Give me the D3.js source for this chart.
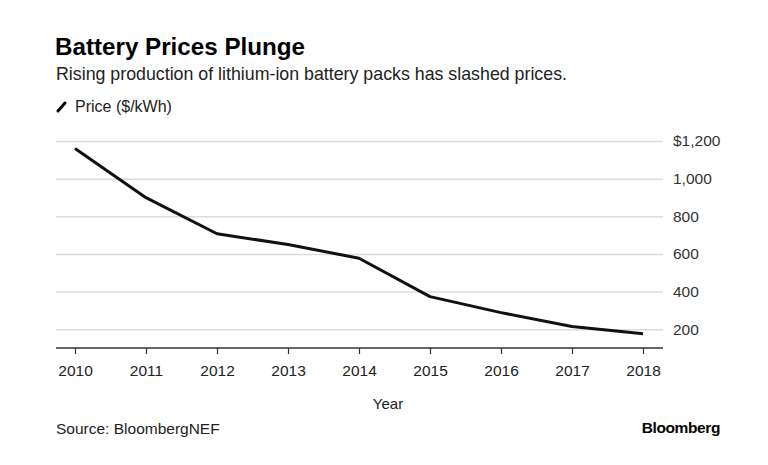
<!DOCTYPE html>
<html>
<head>
<meta charset="utf-8">
<script src="https://cdn.jsdelivr.net/npm/d3@7"></script>
<style>
  body { margin: 0; background: #fff; }
  svg text { font-family: "Liberation Sans", Arial, sans-serif; }
</style>
</head>
<body>
<div id="chart"></div>
<script>
// data (BloombergNEF pack prices)
const years = [2010, 2011, 2012, 2013, 2014, 2015, 2016, 2017, 2018]
const prices = [1160, 899, 707, 650, 577, 373, 288, 214, 176]
const yTicks = [200, 400, 600, 800, 1000, 1200]

const width = 768
const height = 465
const plotLeft = 56, plotRight = 663, plotTop = 141, plotBottom = 348

const svg = d3.select("#chart")
    .append("svg")
    .attr("width", width)
    .attr("height", height)

const x = d3.scaleLinear()
    .domain([2010, 2018])
    .range([75, 643])

const y = d3.scaleLinear()
    .domain([100, 1200])
    .range([plotBottom, plotTop])

// titles
svg.append("text")
    .attr("x", 55).attr("y", 55)
    .text("Battery Prices Plunge")
    .style("font-size", "24.2px")
    .style("font-weight", "bold")
    .style("fill", "#000")

svg.append("text")
    .attr("x", 56).attr("y", 80)
    .text("Rising production of lithium-ion battery packs has slashed prices.")
    .style("font-size", "17.8px")
    .style("fill", "#222")

// legend
svg.append("line")
    .attr("x1", 58).attr("y1", 111)
    .attr("x2", 65).attr("y2", 103)
    .attr("stroke", "#000")
    .attr("stroke-width", 3)
    .attr("stroke-linecap", "round")

svg.append("text")
    .attr("x", 75).attr("y", 112)
    .text("Price ($/kWh)")
    .style("font-size", "16px")
    .style("fill", "#222")

// y axis with gridlines, labels on the right
const yAxis = svg.append("g")
    .attr("transform", `translate(${plotRight}, 0)`)
    .call(d3.axisRight(y)
        .tickValues(yTicks)
        .tickSize(-(plotRight - plotLeft))
        .tickPadding(10)
        .tickFormat(d => d === 1200 ? "$1,200" : d3.format(",")(d)))

yAxis.select(".domain").remove()
yAxis.selectAll(".tick line")
    .attr("stroke", "#dcdcdc")
    .attr("stroke-width", 1.5)
yAxis.selectAll(".tick text")
    .style("font-size", "15.5px")
    .style("fill", "#333")

// x axis
const xAxis = svg.append("g")
    .attr("transform", `translate(0, ${plotBottom})`)
    .call(d3.axisBottom(x)
        .tickValues(years)
        .tickSize(6)
        .tickPadding(11)
        .tickFormat(d3.format("d")))

xAxis.select(".domain").remove()
xAxis.selectAll(".tick line")
    .attr("stroke", "#333")
    .attr("stroke-width", 1.2)
xAxis.selectAll(".tick text")
    .style("font-size", "15.5px")
    .style("fill", "#222")

svg.append("line")
    .attr("x1", plotLeft).attr("x2", plotRight)
    .attr("y1", plotBottom).attr("y2", plotBottom)
    .attr("stroke", "#333")
    .attr("stroke-width", 1.5)

svg.append("text")
    .attr("x", 388).attr("y", 409)
    .attr("text-anchor", "middle")
    .text("Year")
    .style("font-size", "15px")
    .style("fill", "#222")

// the line
const line = d3.line()
    .x((d, i) => x(years[i]))
    .y(d => y(d))

svg.append("path")
    .datum(prices)
    .attr("d", line)
    .attr("fill", "none")
    .attr("stroke", "#111")
    .attr("stroke-width", 3)
    .attr("stroke-linejoin", "round")

// footer
svg.append("text")
    .attr("x", 56).attr("y", 434)
    .text("Source: BloombergNEF")
    .style("font-size", "15.5px")
    .style("fill", "#222")

svg.append("text")
    .attr("x", 720).attr("y", 433)
    .attr("text-anchor", "end")
    .text("Bloomberg")
    .style("font-size", "15.5px")
    .style("font-weight", "bold")
    .style("letter-spacing", "-0.4px")
    .style("fill", "#000")
</script>
</body>
</html>
